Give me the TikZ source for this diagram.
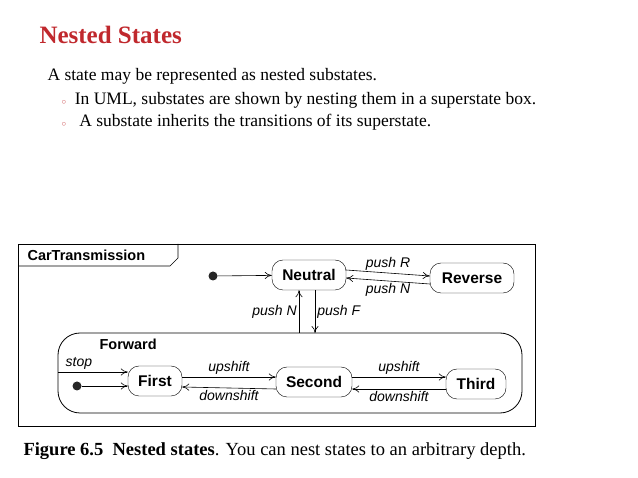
\documentclass[tikz,border=0pt]{standalone}
\usepackage{fontspec}
\setmainfont{Liberation Serif}
\setsansfont{Liberation Sans}
\usetikzlibrary{arrows.meta}
\definecolor{titlered}{HTML}{C0282D}
\tikzset{
  st/.style={draw,rounded corners=11pt,minimum height=30pt,inner xsep=6pt,font=\sffamily\bfseries\fontsize{15.5}{17}\selectfont},
  lbl/.style={font=\sffamily\itshape\fontsize{14}{16}\selectfont,inner sep=2pt},
  tr/.style={draw,-{To[length=7pt,width=7pt]},line width=0.6pt},
  dot/.style={circle,fill=black!85,inner sep=0pt,minimum size=9pt}
}
\begin{document}
\begin{tikzpicture}[x=1pt,y=-1pt]
\useasboundingbox (0,0) rectangle (638,478);
\node[anchor=west,text=titlered,font=\bfseries\fontsize{25}{28}\selectfont] (title) at (36,35) {Nested States};
\node[anchor=west,font=\fontsize{17.5}{20}\selectfont] (b0) at (44,76) {A state may be represented as nested substates.};
\node[anchor=west,font=\fontsize{17.5}{20}\selectfont] (b1) at (58,100) {{\color{titlered!70}\fontsize{9}{9}\selectfont$\circ$}\ \ In UML, substates are shown by nesting them in a superstate box.};
\node[anchor=west,font=\fontsize{17.5}{20}\selectfont] (b2) at (58,122) {{\color{titlered!70}\fontsize{9}{9}\selectfont$\circ$}\ \ \ A substate inherits the transitions of its superstate.};
% outer frame
\draw[line width=0.8pt] (18,244) rectangle (535,426);
\draw[line width=0.6pt] (18,266) -- (170,266) -- (178,258) -- (178,244);
\node[anchor=west,font=\sffamily\bfseries\fontsize{14.5}{16}\selectfont] (ct) at (24,255) {CarTransmission};
% states
\node[st,minimum width=74pt] (neu) at (309,275) {Neutral};
\node[st,minimum width=84pt] (rev) at (472,278) {Reverse};
\node[dot] (i0) at (213,276) {};
\draw[rounded corners=22pt,line width=0.8pt] (58,333) rectangle (522,413);
\node[anchor=west,font=\sffamily\bfseries\fontsize{14.5}{16}\selectfont] (fw) at (96,344) {Forward};
\node[st,minimum width=54pt] (fir) at (155,381) {First};
\node[st,minimum width=76pt] (sec) at (314,382) {Second};
\node[st,minimum width=60pt] (thi) at (476,384) {Third};
\node[dot] (i1) at (77,386) {};
\coordinate (fwtop1) at (299,333);
\coordinate (fwtop2) at (315,333);
\coordinate (stopstart) at (58,372);
% transitions
\draw[tr] (i0) -- (neu);
\draw[tr] ([yshift=5pt]neu.east) -- node[lbl,above]{push R} ([yshift=2pt]rev.west);
\draw[tr] ([yshift=-6pt]rev.west) -- node[lbl,below]{push N} ([yshift=-3pt]neu.east);
\draw[tr] (fwtop1) -- node[lbl,left]{push N} (fwtop1 |- neu.south);
\draw[tr] (fwtop2 |- neu.south) -- node[lbl,right]{push F} (fwtop2);
\draw[tr] (stopstart) -- node[lbl,above,pos=0.3]{stop} (stopstart -| fir.west);
\draw[tr] (i1) -- (i1 -| fir.west);
\draw[tr] ([yshift=4pt]fir.east) -- node[lbl,above]{upshift} ([yshift=5pt]sec.west);
\draw[tr] ([yshift=-7pt]sec.west) -- node[lbl,below]{downshift} ([yshift=-6pt]fir.east);
\draw[tr] ([yshift=5pt]sec.east) -- node[lbl,above]{upshift} ([yshift=7pt]thi.west);
\draw[tr] ([yshift=-5pt]thi.west) -- node[lbl,below]{downshift} ([yshift=-7pt]sec.east);
\node[anchor=west,font=\fontsize{18.5}{21}\selectfont] (cap) at (20,451) {\textbf{Figure 6.5\ \ Nested states}. You can nest states to an arbitrary depth.};
\end{tikzpicture}
\end{document}
